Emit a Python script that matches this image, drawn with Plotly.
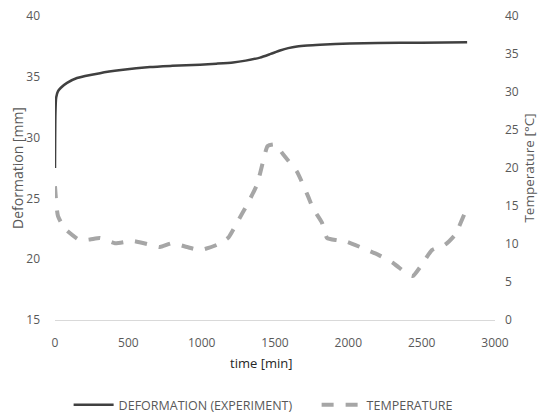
import plotly.graph_objects as go

# Deformation (experiment) [mm] vs time [min]
def_time = [0, 3, 8, 20, 40, 82, 150, 307, 450, 648, 800, 989, 1100, 1214, 1300, 1398, 1470, 1534, 1590, 1650, 1720, 1807, 2011, 2200, 2500, 2810]
def_vals = [27.5, 32.0, 33.3, 33.8, 34.1, 34.5, 34.9, 35.3, 35.55, 35.8, 35.9, 36.0, 36.08, 36.18, 36.33, 36.58, 36.88, 37.16, 37.36, 37.5, 37.58, 37.64, 37.74, 37.78, 37.8, 37.85]

# Temperature [°C] vs time [min]
temp_time = [0, 20, 68, 170, 239, 307, 409, 532, 648, 716, 798, 900, 989, 1105, 1180, 1241, 1316, 1377, 1418, 1450, 1500, 1555, 1650, 1725, 1759, 1820, 1855, 1923, 1991, 2093, 2202, 2305, 2407, 2441, 2502, 2570, 2659, 2727, 2795]
temp_vals = [17.6, 13.7, 12.0, 10.5, 10.6, 10.8, 10.1, 10.4, 9.9, 9.6, 10.1, 9.6, 9.2, 9.9, 10.8, 12.8, 15.4, 17.8, 20.8, 22.9, 23.1, 21.8, 19.5, 16.3, 14.7, 12.8, 10.8, 10.5, 10.3, 9.5, 8.6, 7.5, 6.0, 5.8, 7.3, 9.2, 9.9, 11.2, 14.1]

x_ticks = [0, 500, 1000, 1500, 2000, 2500, 3000]
y_left_ticks = [15, 20, 25, 30, 35, 40]
y_right_ticks = [0, 5, 10, 15, 20, 25, 30, 35, 40]

FONT = "Open Sans"
TXT = "#595959"
NB = "\u00a0"

fig = go.Figure()
fig.add_trace(go.Scatter(
    x=def_time, y=def_vals, name="DEFORMATION (EXPERIMENT)" + NB * 6, mode="lines",
    line=dict(color="#404040", width=2.5, shape="spline", smoothing=0.6),
    yaxis="y"))
fig.add_trace(go.Scatter(
    x=temp_time, y=temp_vals, name="TEMPERATURE", mode="lines",
    line=dict(color="#a6a6a6", width=4, dash="dash", shape="spline", smoothing=0.5),
    yaxis="y2"))

fig.update_layout(
    width=550, height=420,
    margin=dict(l=47, r=63, t=8, b=106),
    paper_bgcolor="white", plot_bgcolor="white",
    font=dict(family=FONT, color=TXT, size=12),
    xaxis=dict(range=[0, 3000], tickvals=x_ticks, showgrid=False, zeroline=False,
               showline=True, linecolor="#d9d9d9", linewidth=1, ticks="",
               ticklabelstandoff=12, automargin=False, ticklabeloverflow="allow"),
    yaxis=dict(range=[15, 40], tickvals=y_left_ticks, showgrid=False, zeroline=False,
               showline=False, ticks="", ticklabelstandoff=14, automargin=False,
               ticklabeloverflow="allow",
               title=dict(text="Deformation [mm]", font=dict(size=14, color=TXT), standoff=0)),
    yaxis2=dict(range=[0, 40], tickvals=y_right_ticks, overlaying="y", side="right",
                showgrid=False, zeroline=False, showline=False, ticks="",
                ticklabelstandoff=9, automargin=False, ticklabeloverflow="allow",
                title=dict(text="Temperature [°C]", font=dict(size=13.5, color=TXT), standoff=6)),
    legend=dict(orientation="h", x=0.473, xanchor="center", y=-0.28, yanchor="middle",
                font=dict(size=12.5, color=TXT), itemwidth=40),
    showlegend=True,
    annotations=[dict(text="time [min]", xref="paper", yref="paper", x=0.468, y=-0.14,
                      xanchor="center", yanchor="middle", showarrow=False,
                      font=dict(size=13, color="#262626"))],
)

fig.write_html("out.html")
